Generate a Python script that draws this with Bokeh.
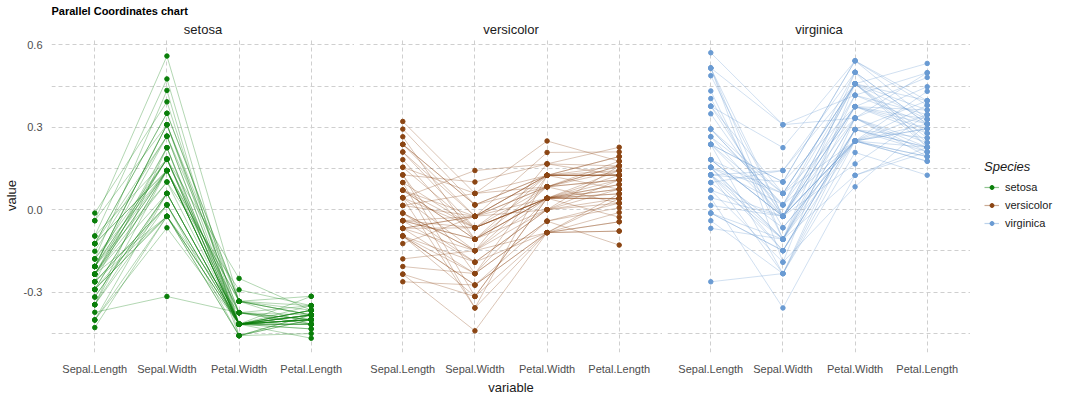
import numpy as np
from bokeh.plotting import figure
from bokeh.models import (Range1d, FixedTicker, PrintfTickFormatter, Legend,
                          LegendItem, Title)
from bokeh.layouts import row
from bokeh.embed import file_html
from bokeh.resources import INLINE

# ---------------- data (Fisher's iris, raw measurements) ----------------
species = ["setosa", "versicolor", "virginica"]
variables = ["Sepal.Length", "Sepal.Width", "Petal.Width", "Petal.Length"]
y_ticks = [-0.3, 0.0, 0.3, 0.6]
y_minor = [-0.45, -0.15, 0.15, 0.45]

setosa_sepal_length = [5.1, 4.9, 4.7, 4.6, 5.0, 5.4, 4.6, 5.0, 4.4, 4.9,
                       5.4, 4.8, 4.8, 4.3, 5.8, 5.7, 5.4, 5.1, 5.7, 5.1,
                       5.4, 5.1, 4.6, 5.1, 4.8, 5.0, 5.0, 5.2, 5.2, 4.7,
                       4.8, 5.4, 5.2, 5.5, 4.9, 5.0, 5.5, 4.9, 4.4, 5.1,
                       5.0, 4.5, 4.4, 5.0, 5.1, 4.8, 5.1, 4.6, 5.3, 5.0]
setosa_sepal_width = [3.5, 3.0, 3.2, 3.1, 3.6, 3.9, 3.4, 3.4, 2.9, 3.1,
                      3.7, 3.4, 3.0, 3.0, 4.0, 4.4, 3.9, 3.5, 3.8, 3.8,
                      3.4, 3.7, 3.6, 3.3, 3.4, 3.0, 3.4, 3.5, 3.4, 3.2,
                      3.1, 3.4, 4.1, 4.2, 3.1, 3.2, 3.5, 3.6, 3.0, 3.4,
                      3.5, 2.3, 3.2, 3.5, 3.8, 3.0, 3.8, 3.2, 3.7, 3.3]
setosa_petal_length = [1.4, 1.4, 1.3, 1.5, 1.4, 1.7, 1.4, 1.5, 1.4, 1.5,
                       1.5, 1.6, 1.4, 1.1, 1.2, 1.5, 1.3, 1.4, 1.7, 1.5,
                       1.7, 1.5, 1.0, 1.7, 1.9, 1.6, 1.6, 1.5, 1.4, 1.6,
                       1.6, 1.5, 1.5, 1.4, 1.5, 1.2, 1.3, 1.4, 1.3, 1.5,
                       1.3, 1.3, 1.3, 1.6, 1.9, 1.4, 1.6, 1.4, 1.5, 1.4]
setosa_petal_width = [0.2, 0.2, 0.2, 0.2, 0.2, 0.4, 0.3, 0.2, 0.2, 0.1,
                      0.2, 0.2, 0.1, 0.1, 0.2, 0.4, 0.4, 0.3, 0.3, 0.3,
                      0.2, 0.4, 0.2, 0.5, 0.2, 0.2, 0.4, 0.2, 0.2, 0.2,
                      0.2, 0.4, 0.1, 0.2, 0.2, 0.2, 0.2, 0.1, 0.2, 0.2,
                      0.3, 0.3, 0.2, 0.6, 0.4, 0.3, 0.2, 0.2, 0.2, 0.2]

versicolor_sepal_length = [7.0, 6.4, 6.9, 5.5, 6.5, 5.7, 6.3, 4.9, 6.6, 5.2,
                           5.0, 5.9, 6.0, 6.1, 5.6, 6.7, 5.6, 5.8, 6.2, 5.6,
                           5.9, 6.1, 6.3, 6.1, 6.4, 6.6, 6.8, 6.7, 6.0, 5.7,
                           5.5, 5.5, 5.8, 6.0, 5.4, 6.0, 6.7, 6.3, 5.6, 5.5,
                           5.5, 6.1, 5.8, 5.0, 5.6, 5.7, 5.7, 6.2, 5.1, 5.7]
versicolor_sepal_width = [3.2, 3.2, 3.1, 2.3, 2.8, 2.8, 3.3, 2.4, 2.9, 2.7,
                          2.0, 3.0, 2.2, 2.9, 2.9, 3.1, 3.0, 2.7, 2.2, 2.5,
                          3.2, 2.8, 2.5, 2.8, 2.9, 3.0, 2.8, 3.0, 2.9, 2.6,
                          2.4, 2.4, 2.7, 2.7, 3.0, 3.4, 3.1, 2.3, 3.0, 2.5,
                          2.6, 3.0, 2.6, 2.3, 2.7, 3.0, 2.9, 2.9, 2.5, 2.8]
versicolor_petal_length = [4.7, 4.5, 4.9, 4.0, 4.6, 4.5, 4.7, 3.3, 4.6, 3.9,
                           3.5, 4.2, 4.0, 4.7, 3.6, 4.4, 4.5, 4.1, 4.5, 3.9,
                           4.8, 4.0, 4.9, 4.7, 4.3, 4.4, 4.8, 5.0, 4.5, 3.5,
                           3.8, 3.7, 3.9, 5.1, 4.5, 4.5, 4.7, 4.4, 4.1, 4.0,
                           4.4, 4.6, 4.0, 3.3, 4.2, 4.2, 4.2, 4.3, 3.0, 4.1]
versicolor_petal_width = [1.4, 1.5, 1.5, 1.3, 1.5, 1.3, 1.6, 1.0, 1.3, 1.4,
                          1.0, 1.5, 1.0, 1.4, 1.3, 1.4, 1.5, 1.0, 1.5, 1.1,
                          1.8, 1.3, 1.5, 1.2, 1.3, 1.4, 1.4, 1.7, 1.5, 1.0,
                          1.1, 1.0, 1.2, 1.6, 1.5, 1.6, 1.5, 1.3, 1.3, 1.3,
                          1.2, 1.4, 1.2, 1.0, 1.3, 1.2, 1.3, 1.3, 1.1, 1.3]

virginica_sepal_length = [6.3, 5.8, 7.1, 6.3, 6.5, 7.6, 4.9, 7.3, 6.7, 7.2,
                          6.5, 6.4, 6.8, 5.7, 5.8, 6.4, 6.5, 7.7, 7.7, 6.0,
                          6.9, 5.6, 7.7, 6.3, 6.7, 7.2, 6.2, 6.1, 6.4, 7.2,
                          7.4, 7.9, 6.4, 6.3, 6.1, 7.7, 6.3, 6.4, 6.0, 6.9,
                          6.7, 6.9, 5.8, 6.8, 6.7, 6.7, 6.3, 6.5, 6.2, 5.9]
virginica_sepal_width = [3.3, 2.7, 3.0, 2.9, 3.0, 3.0, 2.5, 2.9, 2.5, 3.6,
                         3.2, 2.7, 3.0, 2.5, 2.8, 3.2, 3.0, 3.8, 2.6, 2.2,
                         3.2, 2.8, 2.8, 2.7, 3.3, 3.2, 2.8, 3.0, 2.8, 3.0,
                         2.8, 3.8, 2.8, 2.8, 2.6, 3.0, 3.4, 3.1, 3.0, 3.1,
                         3.1, 3.1, 2.7, 3.2, 3.3, 3.0, 2.5, 3.0, 3.4, 3.0]
virginica_petal_length = [6.0, 5.1, 5.9, 5.6, 5.8, 6.6, 4.5, 6.3, 5.8, 6.1,
                          5.1, 5.3, 5.5, 5.0, 5.1, 5.3, 5.5, 6.7, 6.9, 5.0,
                          5.7, 4.9, 6.7, 4.9, 5.7, 6.0, 4.8, 4.9, 5.6, 5.8,
                          6.1, 6.4, 5.6, 5.1, 5.6, 6.1, 5.6, 5.5, 4.8, 5.4,
                          5.6, 5.1, 5.1, 5.9, 5.7, 5.2, 5.0, 5.2, 5.4, 5.1]
virginica_petal_width = [2.5, 1.9, 2.1, 1.8, 2.2, 2.1, 1.7, 1.8, 1.8, 2.5,
                         2.0, 1.9, 2.1, 2.0, 2.4, 2.3, 1.8, 2.2, 2.3, 1.5,
                         2.3, 2.0, 2.0, 1.8, 2.1, 1.8, 1.8, 1.8, 2.1, 1.6,
                         1.9, 2.0, 2.2, 1.5, 1.4, 2.3, 2.4, 1.8, 1.8, 2.1,
                         2.4, 2.3, 1.9, 2.3, 2.5, 2.3, 1.9, 2.0, 2.3, 1.8]

raw = {
    "setosa": [setosa_sepal_length, setosa_sepal_width, setosa_petal_width, setosa_petal_length],
    "versicolor": [versicolor_sepal_length, versicolor_sepal_width, versicolor_petal_width, versicolor_petal_length],
    "virginica": [virginica_sepal_length, virginica_sepal_width, virginica_petal_width, virginica_petal_length],
}
colors = {"setosa": "#0A7F0A", "versicolor": "#8B4513", "virginica": "#6A9BD3"}

# ggparcoord scale="center": min-max scale each variable, then centre on its mean
scaled = {}
allvals = [np.concatenate([np.array(raw[s][j]) for s in species]) for j in range(4)]
for s in species:
    cols = []
    for j in range(4):
        a = allvals[j]
        u = (np.array(raw[s][j]) - a.min()) / (a.max() - a.min())
        ua = (a - a.min()) / (a.max() - a.min())
        cols.append(u - ua.mean())
    scaled[s] = np.array(cols).T  # (50, 4)

ymin = min(scaled[s].min() for s in species)
ymax = max(scaled[s].max() for s in species)
pad = 0.05 * (ymax - ymin)

FONT = "Liberation Sans"
GRID = "#CFCFCF"
W, H = 303, 314
LEG_W = 96


def add_titles(p, main_text, strip_text):
    # main title (outermost) and facet strip label (closest to the frame)
    p.title.text = main_text
    p.title.align = "left"
    p.title.text_font = FONT
    p.title.text_font_size = "11px"
    p.title.text_font_style = "bold"
    p.title.text_color = "#000000"
    p.title.standoff = 4
    p.add_layout(Title(text=strip_text, align="center", text_font=FONT,
                       text_font_size="13px", text_font_style="normal",
                       text_color="#1A1A1A", standoff=3), "above")


def panel(i, s):
    first = i == 0
    p = figure(frame_width=W, frame_height=H,
               x_range=Range1d(0.4, 4.6), y_range=Range1d(ymin - pad, ymax + pad),
               output_backend="svg", toolbar_location=None,
               min_border_left=(0 if first else 5), min_border_right=0,
               min_border_top=0, min_border_bottom=0)
    p.outline_line_color = None
    p.background_fill_color = "white"
    p.border_fill_color = "white"
    add_titles(p, "Parallel Coordinates chart" if first else " ", s)

    # axes
    p.xaxis.ticker = FixedTicker(ticks=[1, 2, 3, 4])
    p.xaxis.major_label_overrides = {k + 1: v for k, v in enumerate(variables)}
    p.xaxis.axis_line_color = None
    p.xaxis.major_tick_line_color = None
    p.xaxis.minor_tick_line_color = None
    p.xaxis.major_label_text_font = FONT
    p.xaxis.major_label_text_font_size = "11px"
    p.xaxis.major_label_text_color = "#4D4D4D"
    p.xaxis.major_label_standoff = 4
    if i == 1:
        p.xaxis.axis_label = "variable"
        p.xaxis.axis_label_text_font = FONT
        p.xaxis.axis_label_text_font_size = "13px"
        p.xaxis.axis_label_text_font_style = "normal"
        p.xaxis.axis_label_text_color = "#1A1A1A"
        p.xaxis.axis_label_standoff = 2

    yt = FixedTicker(ticks=y_ticks, minor_ticks=y_minor)
    p.yaxis.ticker = yt
    p.ygrid.ticker = yt
    p.xgrid.ticker = FixedTicker(ticks=[1, 2, 3, 4])
    if first:
        p.yaxis.formatter = PrintfTickFormatter(format="%.1f")
        p.yaxis.axis_line_color = None
        p.yaxis.major_tick_line_color = None
        p.yaxis.minor_tick_line_color = None
        p.yaxis.major_label_text_font = FONT
        p.yaxis.major_label_text_font_size = "11px"
        p.yaxis.major_label_text_color = "#4D4D4D"
        p.yaxis.major_label_standoff = 3
        p.yaxis.axis_label = "value"
        p.yaxis.axis_label_text_font = FONT
        p.yaxis.axis_label_text_font_size = "13px"
        p.yaxis.axis_label_text_font_style = "normal"
        p.yaxis.axis_label_text_color = "#1A1A1A"
        p.yaxis.axis_label_standoff = 2
    else:
        p.yaxis.visible = False

    for g in (p.xgrid, p.ygrid):
        g.grid_line_color = GRID
        g.grid_line_dash = "4 3"
        g.grid_line_width = 1
    p.ygrid.minor_grid_line_color = GRID
    p.ygrid.minor_grid_line_dash = "4 3"
    p.ygrid.minor_grid_line_width = 1

    d = scaled[s]
    xs = [[1, 2, 3, 4] for _ in range(d.shape[0])]
    ys = [list(r) for r in d]
    p.multi_line(xs=xs, ys=ys, line_color=colors[s], line_alpha=0.35, line_width=0.9)
    px = np.tile([1, 2, 3, 4], d.shape[0])
    p.scatter(x=px, y=d.ravel(), size=4.5, fill_color=colors[s], line_color=colors[s])
    return p


figs = [panel(i, s) for i, s in enumerate(species)]

# legend panel: a small axis-less figure aligned with the facets
pl = figure(frame_width=LEG_W, frame_height=H, x_range=Range1d(0, 1),
            y_range=Range1d(0, 1), output_backend="svg", toolbar_location=None,
            min_border_left=0, min_border_right=0, min_border_top=0,
            min_border_bottom=0)
pl.outline_line_color = None
pl.axis.visible = False
pl.grid.visible = False
add_titles(pl, " ", " ")
items = []
for s in species:
    # key-only renderers: their points lie outside this panel's view
    lr = pl.line(x=[5, 6], y=[5, 6], line_color=colors[s], line_alpha=0.45, line_width=1.2)
    sr = pl.scatter(x=[5], y=[5], size=4.5, fill_color=colors[s], line_color=colors[s])
    items.append(LegendItem(label=s, renderers=[lr, sr]))
legend = Legend(items=items, title="Species", location="left",
                title_text_font=FONT, title_text_font_size="13px",
                title_text_font_style="italic", title_text_color="#1A1A1A",
                label_text_font=FONT, label_text_font_size="11px",
                label_text_color="#1A1A1A", glyph_width=15, glyph_height=10,
                label_height=16, spacing=2, label_standoff=6, padding=4,
                margin=14, border_line_color=None, background_fill_color=None)
pl.add_layout(legend)

layout = row(*figs, pl, spacing=0)
open("out.html", "w").write(file_html(layout, INLINE))
